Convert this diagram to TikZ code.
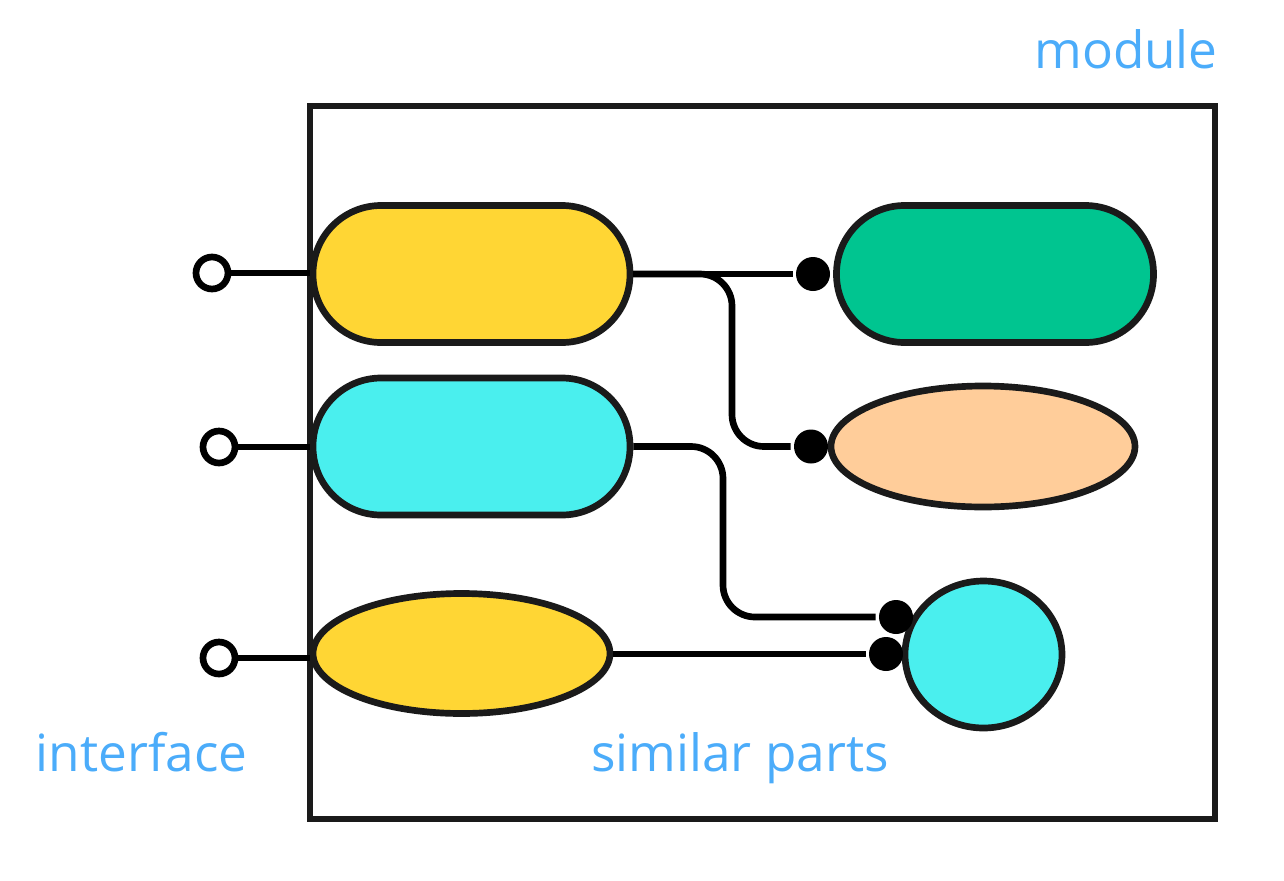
\documentclass[tikz,border=0pt]{standalone}
\usepackage{fontspec}
\setmainfont{Open Sans}
\usetikzlibrary{positioning,shapes.geometric}
\definecolor{edge}{HTML}{1A1A1A}
\definecolor{labblue}{HTML}{4BACFA}
\definecolor{partyellow}{HTML}{FFD634}
\definecolor{partgreen}{HTML}{00C590}
\definecolor{partcyan}{HTML}{4AEFEE}
\definecolor{partpeach}{HTML}{FFCD9A}
\begin{document}
\begin{tikzpicture}[line width=1.9pt,
 part/.style={draw=edge,rectangle,rounded corners=0.68cm,minimum width=3.17cm,minimum height=1.37cm,inner sep=0pt},
 oval/.style={draw=edge,ellipse,inner sep=0pt},
 port/.style={draw=black,fill=white,circle,minimum size=0.32cm,inner sep=0pt},
 pin/.style={fill=black,circle,minimum size=0.34cm,inner sep=0pt},
 wire/.style={draw=black,rounded corners=0.32cm},
 lab/.style={font=\fontsize{14.6}{16}\selectfont,text=labblue,anchor=base,inner sep=0pt}]
\useasboundingbox (0,0) rectangle (12.84,-8.8);
\draw[edge] (3.10,-1.06) rectangle (12.15,-8.19);
\node[lab] (modlab) at (11.26,-0.68) {module};
\node[lab] (iflab) at (1.415,-7.71) {interface};
\node[lab] (simlab) at (7.40,-7.71) {similar parts};
% parts
\node[part,fill=partyellow] (yel1) at (4.715,-2.74) {};
\node[part,fill=partgreen] (grn) at (9.95,-2.74) {};
\node[part,fill=partcyan] (cya1) at (4.715,-4.465) {};
\node[oval,fill=partpeach,minimum width=3.04cm,minimum height=1.21cm] (pch) at (9.83,-4.465) {};
\node[oval,fill=partyellow,minimum width=2.97cm,minimum height=1.20cm] (yel2) at (4.615,-6.535) {};
\node[oval,fill=partcyan,minimum width=1.57cm,minimum height=1.47cm] (cya2) at (9.835,-6.545) {};
% interface ports
\node[port] (p1) at (2.12,-2.73) {};
\node[port] (p2) at (2.19,-4.47) {};
\node[port] (p3) at (2.19,-6.58) {};
\draw[wire] (p1) -- (yel1.west |- p1);
\draw[wire] (p2) -- (cya1.west |- p2);
\draw[wire] (p3) -- (yel2.west |- p3);
% inputs of the parts
\node[pin] (ig) at (8.13,-2.74) {};
\node[pin] (ip) at (8.11,-4.465) {};
\node[pin] (ic1) at (8.96,-6.17) {};
\node[pin] (ic2) at (8.86,-6.54) {};
\coordinate (k1) at (7.32,-4.465);
\coordinate (k2) at (7.23,-6.17);
\draw[wire] (yel1.east) -- (ig);
\draw[wire] (yel1.east) -| (k1) -- (ip);
\draw[wire] (cya1.east) -| (k2) -- (ic1);
\draw[wire] (yel2.east |- ic2) -- (ic2);
\end{tikzpicture}
\end{document}
